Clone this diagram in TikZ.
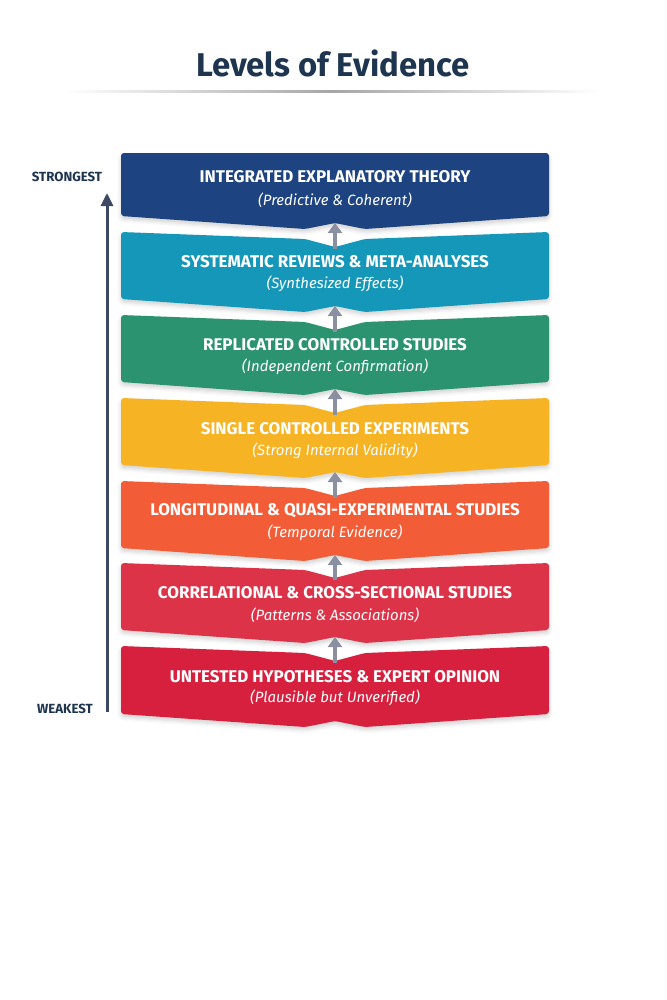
\documentclass[tikz,border=0pt]{standalone}
\usepackage{fontspec}
\setmainfont{Fira Sans}
\usetikzlibrary{arrows.meta,shadows.blur}

\definecolor{titleblue}{HTML}{1E3550}
\definecolor{axiscolor}{HTML}{3B4A62}
\definecolor{stepgray}{HTML}{8B90A0}
\definecolor{levelA}{HTML}{1D4381}
\definecolor{levelB}{HTML}{1497B9}
\definecolor{levelC}{HTML}{2B936F}
\definecolor{levelD}{HTML}{F6B323}
\definecolor{levelE}{HTML}{F25C37}
\definecolor{levelF}{HTML}{DD3349}
\definecolor{levelG}{HTML}{D7203E}

% banner with notch on top: #1 top, #2 bottom, #3 colour
\newcommand{\notchbanner}[3]{%
  \fill[#3, banner] (121,#1) -- (305,#1+7) -- (335,#1+15) -- (365,#1+7) -- (549,#1)
    -- (549,#2) -- (365,#2+13) -- (335,#2+7) -- (305,#2+13) -- (121,#2) -- cycle;}

\begin{document}
\begin{tikzpicture}[
    x=1bp, y=-1bp,
    banner/.style={rounded corners=3bp, blur shadow={shadow xshift=0bp, shadow yshift=-3bp, shadow opacity=18, shadow blur radius=4bp}},
    head/.style={text=white, font=\bfseries\fontsize{17}{20}\selectfont, inner sep=0pt},
    sub/.style={text=white, font=\itshape\fontsize{15}{18}\selectfont, inner sep=0pt},
    side/.style={text=titleblue, font=\bfseries\fontsize{13.3}{16}\selectfont, inner sep=0pt},
    stepup/.style={stepgray, line width=4bp, -{Triangle[width=14bp,length=10bp]}}
  ]
  \useasboundingbox (0,0) rectangle (667,1000);

  % titel
  \node[text=titleblue, font=\bfseries\fontsize{33}{40}\selectfont, inner sep=0pt] (title) at (333,63) {Levels of Evidence};
  \shade[left color=white, right color=gray!70] (65,90) rectangle (333,92);
  \shade[left color=gray!70, right color=white] (333,90) rectangle (600,92);

  % banners
  \fill[levelA, banner] (121,153) -- (549,153)
    -- (549,216) -- (365,229) -- (335,223) -- (305,229) -- (121,216) -- cycle;
  \notchbanner{232}{299}{levelB}
  \notchbanner{315}{382}{levelC}
  \notchbanner{398}{465}{levelD}
  \notchbanner{481}{548}{levelE}
  \notchbanner{563}{630}{levelF}
  \notchbanner{646}{714}{levelG}

  % notch coordinates
  \coordinate (topA) at (335,223);
  \coordinate (lowB) at (335,249);
  \coordinate (topB) at (335,306);
  \coordinate (lowC) at (335,332);
  \coordinate (topC) at (335,389);
  \coordinate (lowD) at (335,415);
  \coordinate (topD) at (335,472);
  \coordinate (lowE) at (335,498);
  \coordinate (topE) at (335,555);
  \coordinate (lowF) at (335,580);
  \coordinate (topF) at (335,637);
  \coordinate (lowG) at (335,663);

  % steps between levels
  \draw[stepup] (lowB) -- (topA);
  \draw[stepup] (lowC) -- (topB);
  \draw[stepup] (lowD) -- (topC);
  \draw[stepup] (lowE) -- (topD);
  \draw[stepup] (lowF) -- (topE);
  \draw[stepup] (lowG) -- (topF);

  % texts
  \node[head] (theory) at (335,177) {INTEGRATED EXPLANATORY THEORY};
  \node[sub] (theorysub) at (335,200) {(Predictive \& Coherent)};
  \node[head] (reviews) at (335,262) {SYSTEMATIC REVIEWS \& META-ANALYSES};
  \node[sub] (reviewssub) at (335,284) {(Synthesized Effects)};
  \node[head] (replicated) at (335,345) {REPLICATED CONTROLLED STUDIES};
  \node[sub] (replicatedsub) at (335,367) {(Independent Confirmation)};
  \node[head] (single) at (335,429) {SINGLE CONTROLLED EXPERIMENTS};
  \node[sub] (singlesub) at (335,451) {(Strong Internal Validity)};
  \node[head] (longitudinal) at (335,511) {LONGITUDINAL \& QUASI-EXPERIMENTAL STUDIES};
  \node[sub] (longitudinalsub) at (335,533) {(Temporal Evidence)};
  \node[head] (correlational) at (335,593) {CORRELATIONAL \& CROSS-SECTIONAL STUDIES};
  \node[sub] (correlationalsub) at (335,615) {(Patterns \& Associations)};
  \node[head] (untested) at (335,677) {UNTESTED HYPOTHESES \& EXPERT OPINION};
  \node[sub] (untestedsub) at (335,698) {(Plausible but Unverified)};

  % strength axis
  \coordinate (axisbot) at (107,712);
  \coordinate (axistop) at (107,193);
  \draw[axiscolor, line width=3bp, -{Triangle[width=12bp,length=13bp]}] (axisbot) -- (axistop);
  \node[side] (strong) at (67,177) {STRONGEST};
  \node[side] (weak) at (65,709) {WEAKEST};
\end{tikzpicture}
\end{document}
